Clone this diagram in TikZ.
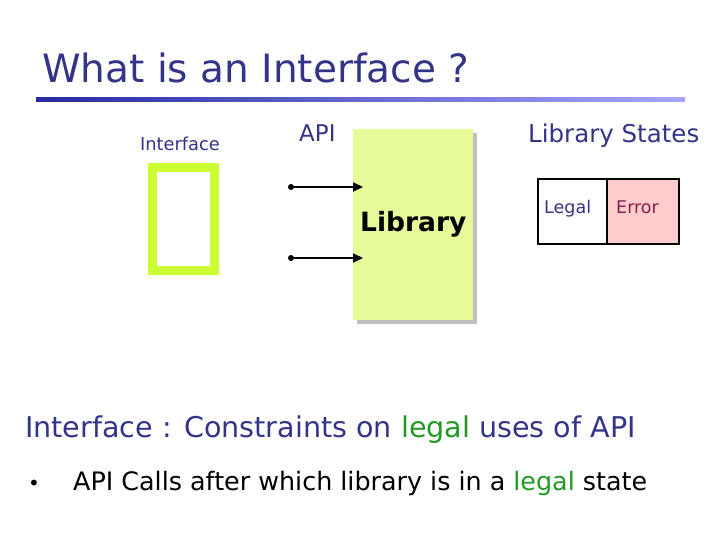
\documentclass[tikz,border=0pt]{standalone}
\usepackage{fontspec}
\setmainfont{DejaVu Sans}
\usetikzlibrary{arrows.meta}
\begin{document}
\begin{tikzpicture}[x=1pt,y=-1pt,
  lbl/.style={inner sep=0pt,anchor=base west},
  arr/.style={line width=2pt,-{Triangle[length=10pt,width=9pt]}},
  dotc/.style={circle,fill=black,inner sep=0pt,minimum size=6pt}]
\definecolor{ttl}{HTML}{333388}
\definecolor{lib}{HTML}{E5FA99}
\definecolor{grn}{HTML}{CCFF33}
\definecolor{errc}{HTML}{FFCCCC}
\definecolor{lgl}{HTML}{229922}
\useasboundingbox (0,0) rectangle (720,540);
\node[lbl,text=ttl,font=\fontsize{39}{44}\selectfont] (title) at (42,83) {What is an Interface ?};
\shade[left color=ttl!80!blue, right color=blue!35!white] (36,98) rectangle (685,102);
\node[lbl,text=ttl,font=\fontsize{17.8}{20}\selectfont] (itf) at (140,151) {Interface};
\draw[grn,line width=9pt] (152.5,167.5) rectangle (214.5,270.5);
\node[lbl,text=ttl,font=\fontsize{23}{26}\selectfont] (api) at (299,142) {API};
\fill[black!25] (357,133) rectangle (477,324);
\node[draw=none,fill=lib,minimum width=120pt,minimum height=191pt,inner sep=0pt,anchor=north west] (libbox) at (353,129) {};
\node[lbl,font=\fontsize{26.5}{30}\selectfont] (libt) at (360,231) {\textbf{Library}};
\node[dotc] (d1) at (291,187) {};
\node[dotc] (d2) at (291,258) {};
\coordinate (e1) at (363,187);
\coordinate (e2) at (363,258);
\draw[arr] (d1) -- (e1);
\draw[arr] (d2) -- (e2);
\node[lbl,text=ttl,font=\fontsize{24.5}{28}\selectfont] (lst) at (528,143) {Library States};
\node[draw,line width=2pt,minimum width=69pt,minimum height=65pt,anchor=north west,inner sep=0pt] (legal) at (537,178) {};
\node[draw,line width=2pt,fill=errc,minimum width=72pt,minimum height=65pt,anchor=north west,inner sep=0pt] (err) at (606,178) {};
\node[lbl,text=ttl,font=\fontsize{17.5}{20}\selectfont] at (544,214) {Legal};
\node[lbl,text=ttl!60!red,font=\fontsize{17.5}{20}\selectfont] at (616,214) {Error};
\node[lbl,text=ttl,font=\fontsize{28.6}{32}\selectfont] (l1) at (25,437) {Interface : Constraints on \textcolor{lgl}{legal} uses of API};
\node[lbl,font=\fontsize{20}{22}\selectfont] (bul) at (28,490) {•};
\node[lbl,font=\fontsize{25.4}{28}\selectfont] (l2) at (73,490) {API Calls after which library is in a \textcolor{lgl}{legal} state};
\end{tikzpicture}
\end{document}
